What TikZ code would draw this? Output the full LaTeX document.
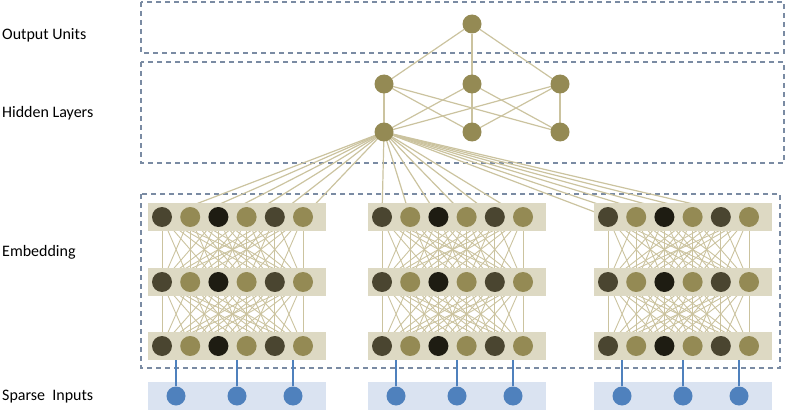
\documentclass[tikz,border=0pt]{standalone}
\usepackage{fontspec}
\setmainfont{Carlito}
\begin{document}
\begin{tikzpicture}[x=1pt,y=-1pt]
\definecolor{dk}{HTML}{4A4530}\definecolor{ol}{HTML}{948A54}\definecolor{bk}{HTML}{1E1C12}
\definecolor{strip}{HTML}{DDD9C3}\definecolor{ln}{HTML}{CBC39F}\definecolor{bx}{HTML}{7A8BA3}
\definecolor{sp}{HTML}{DAE3F1}\definecolor{bl}{HTML}{4F81BD}
\tikzset{nd/.style={circle,minimum size=20pt,inner sep=0pt},
 hn/.style={nd,fill=ol,minimum size=19pt},
 sn/.style={nd,fill=bl,minimum size=19pt},
 dbox/.style={draw=bx,line width=1.4pt,dash pattern=on 5pt off 4pt},
 lbl/.style={anchor=west,font=\fontsize{16}{18}\selectfont,inner sep=0pt},
 cn/.style={draw=ln,line width=1.2pt}}
\useasboundingbox (0,0) rectangle (785,412);
\draw[dbox] (141,2) rectangle (784,53);
\draw[dbox] (141,62) rectangle (784,163);
\draw[dbox] (141,194) rectangle (780,368);
\node[lbl] (l1) at (2,35) {Output Units};
\node[lbl] (l2) at (2,113) {Hidden Layers};
\node[lbl] (l3) at (2,252) {Embedding};
\node[lbl] (l4) at (2,397) {Sparse\ \ Inputs};
\node[hn] (o) at (472,24) {};
\foreach \i/\x in {1/384,2/472,3/560}{\coordinate (ha\i) at (\x,84); \coordinate (hb\i) at (\x,132);}
\foreach \i in {1,2,3}{\draw[cn] (o) -- (ha\i); \foreach \j in {1,2,3}{\draw[cn] (ha\i) -- (hb\j);}}
\foreach \b/\off in {1/0,2/220,3/446}{
  \fill[sp] (148+\off,382) rectangle (326+\off,410);
  \foreach \k/\dx in {1/176,2/237,3/293}{
    \coordinate (st\b\k) at (\dx+\off,360);
    \node[sn] (s\b\k) at (\dx+\off,396) {};
    \draw[bl,line width=1.5pt] (s\b\k) -- (st\b\k);}
  \foreach \j in {1,...,6}{
    \foreach \r/\y in {1/217,2/282,3/346}{\coordinate (e\b\r\j) at (162+28.2*\j-28.2+\off,\y);}}
  \foreach \j in {1,...,6}{\foreach \k in {1,...,6}{
    \draw[cn,line width=0.9pt] (e\b1\j) -- (e\b2\k); \draw[cn,line width=0.9pt] (e\b2\j) -- (e\b3\k);}
    \draw[cn] (hb1) -- (e\b1\j);}
  \foreach \r/\y in {1/217,2/282,3/346}{
    \fill[strip] (148+\off,\y-14) rectangle (326+\off,\y+14);
    \foreach \j/\c in {1/dk,2/ol,3/bk,4/ol,5/dk,6/ol}{\node[nd,fill=\c] (n\b\r\j) at (e\b\r\j) {};}}
}
\foreach \i in {1,2,3}{\node[hn] (nhb\i) at (hb\i) {};\node[hn] (nha\i) at (ha\i) {};}
\end{tikzpicture}
\end{document}
